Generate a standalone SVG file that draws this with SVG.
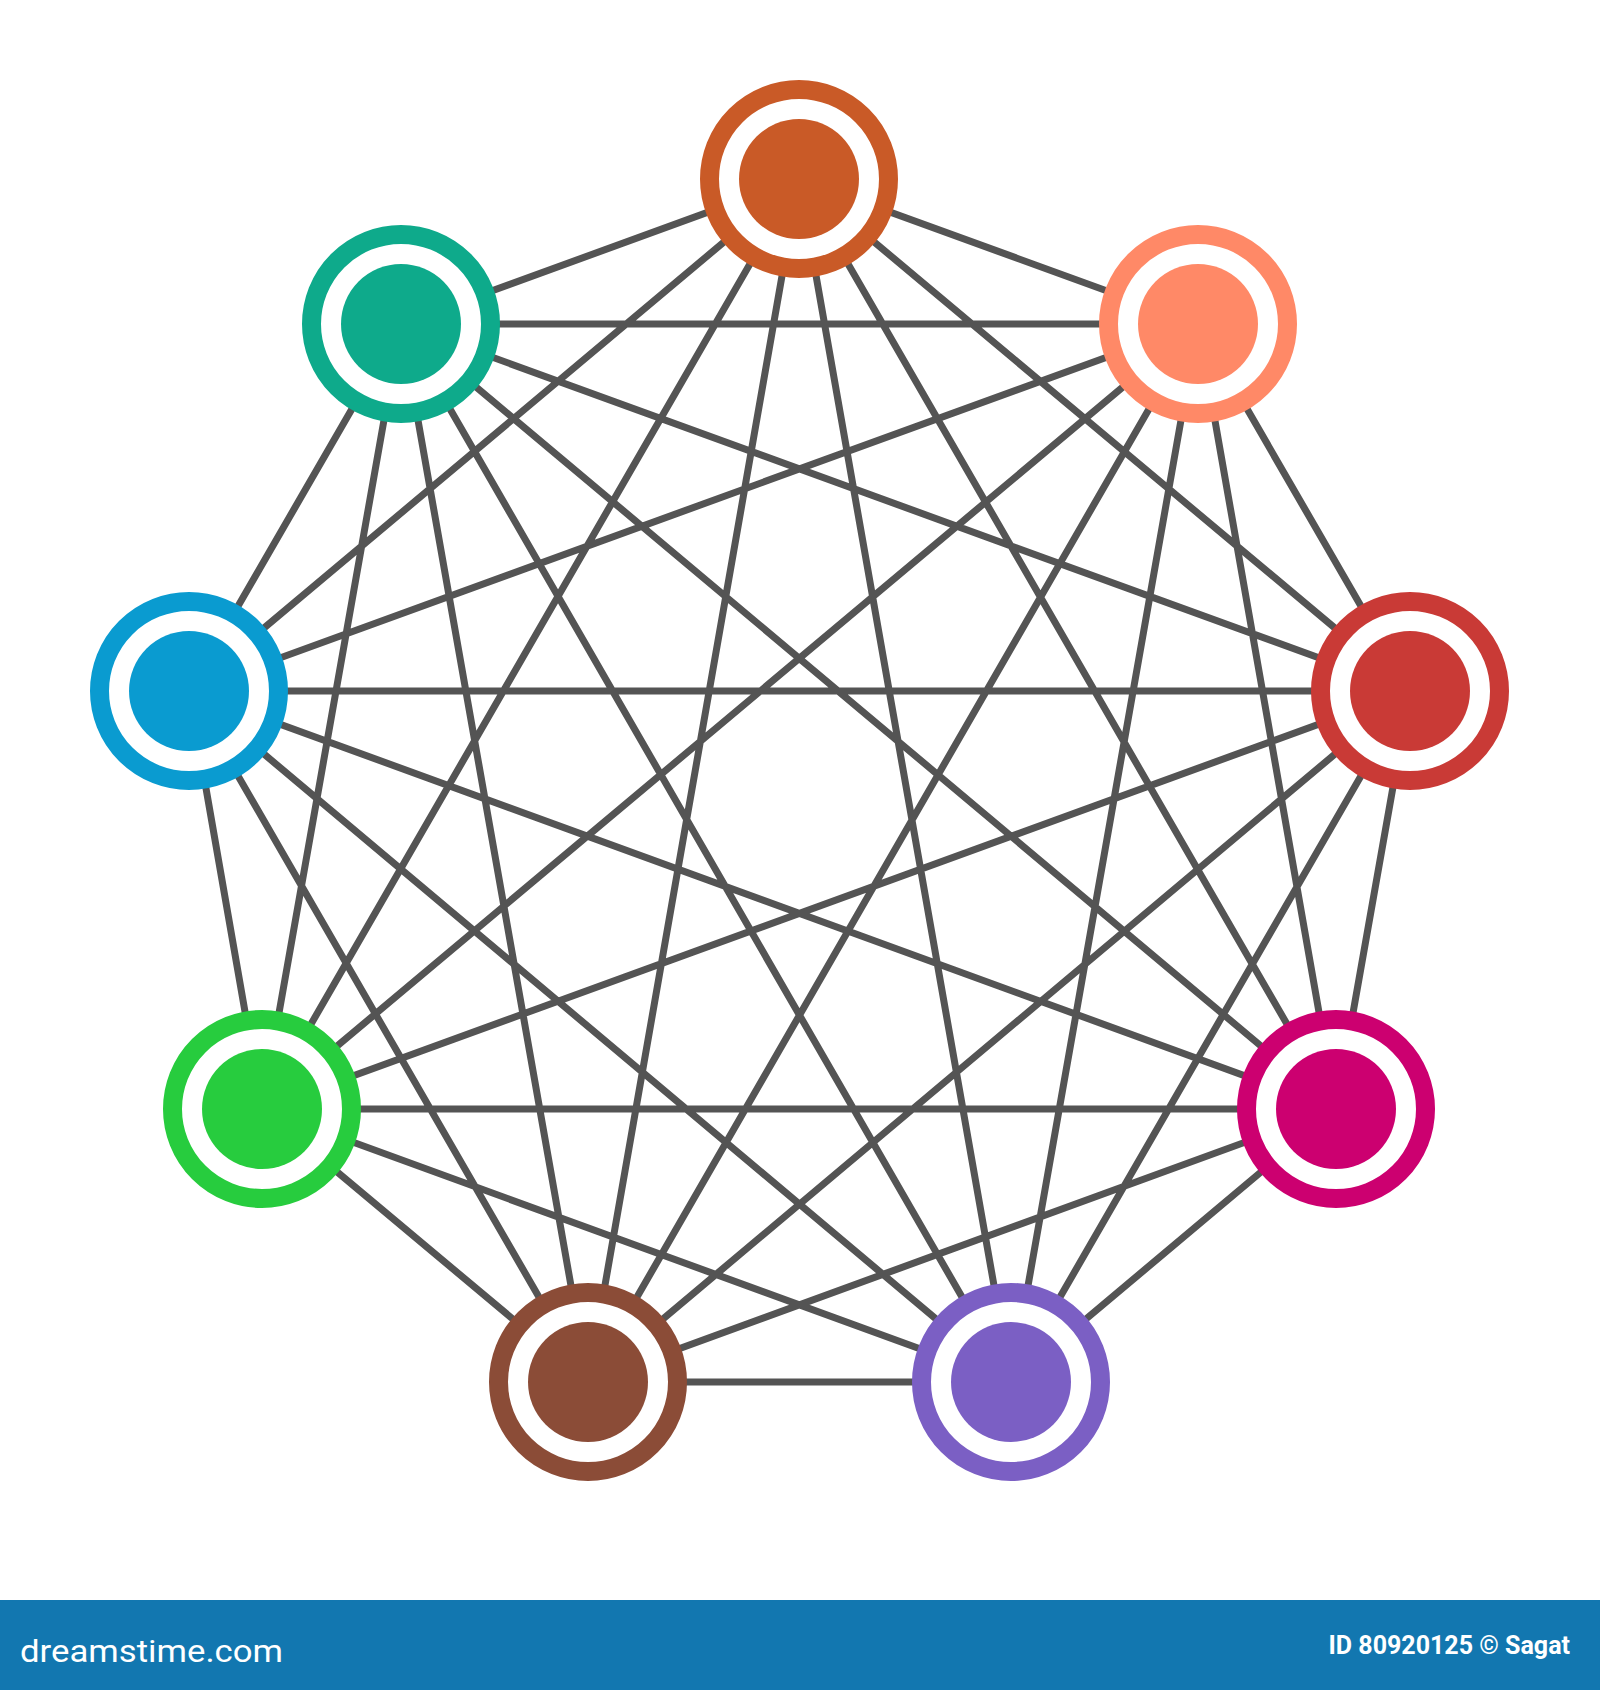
<svg xmlns="http://www.w3.org/2000/svg" width="1600" height="1690" viewBox="0 0 1600 1690">
<style>
.e{stroke:#545454;stroke-width:7;fill:none}
.ring{stroke-width:19;fill:#fff}
.ft{font-family:Roboto,"Liberation Sans",sans-serif;fill:#fff}
</style>
<defs>
<g id="nd"><circle r="89.5" class="ring"/></g>
</defs>
<rect width="1600" height="1690" fill="#fff"/>
<g id="connectors">
<path class="e" d="M799 179L1198 324M799 179L1410 691M799 179L1336 1109M799 179L1011 1382M799 179L588 1382M799 179L262 1109M799 179L189 691M799 179L401 324
M1198 324L1410 691M1198 324L1336 1109M1198 324L1011 1382M1198 324L588 1382M1198 324L262 1109M1198 324L189 691M1198 324L401 324
M1410 691L1336 1109M1410 691L1011 1382M1410 691L588 1382M1410 691L262 1109M1410 691L189 691M1410 691L401 324
M1336 1109L1011 1382M1336 1109L588 1382M1336 1109L262 1109M1336 1109L189 691M1336 1109L401 324
M1011 1382L588 1382M1011 1382L262 1109M1011 1382L189 691M1011 1382L401 324
M588 1382L262 1109M588 1382L189 691M588 1382L401 324
M262 1109L189 691M262 1109L401 324
M189 691L401 324"/>
</g>
<g id="n1"><circle cx="799" cy="179" r="89.5" class="ring" stroke="#c95a27"/><circle cx="799" cy="179" r="60" fill="#c95a27"/></g>
<g id="n2"><circle cx="1198" cy="324" r="89.5" class="ring" stroke="#ff8967"/><circle cx="1198" cy="324" r="60" fill="#ff8967"/></g>
<g id="n3"><circle cx="1410" cy="691" r="89.5" class="ring" stroke="#c93a36"/><circle cx="1410" cy="691" r="60" fill="#c93a36"/></g>
<g id="n4"><circle cx="1336" cy="1109" r="89.5" class="ring" stroke="#cc0070"/><circle cx="1336" cy="1109" r="60" fill="#cc0070"/></g>
<g id="n5"><circle cx="1011" cy="1382" r="89.5" class="ring" stroke="#7b5fc4"/><circle cx="1011" cy="1382" r="60" fill="#7b5fc4"/></g>
<g id="n6"><circle cx="588" cy="1382" r="89.5" class="ring" stroke="#8b4c37"/><circle cx="588" cy="1382" r="60" fill="#8b4c37"/></g>
<g id="n7"><circle cx="262" cy="1109" r="89.5" class="ring" stroke="#27cc3e"/><circle cx="262" cy="1109" r="60" fill="#27cc3e"/></g>
<g id="n8"><circle cx="189" cy="691" r="89.5" class="ring" stroke="#0a9bd0"/><circle cx="189" cy="691" r="60" fill="#0a9bd0"/></g>
<g id="n9"><circle cx="401" cy="324" r="89.5" class="ring" stroke="#0eaa8b"/><circle cx="401" cy="324" r="60" fill="#0eaa8b"/></g>
<g id="footer">
<rect x="0" y="1600" width="1600" height="90" fill="#1277b0"/>
<text x="20" y="1662" class="ft" font-size="32" textLength="263" lengthAdjust="spacingAndGlyphs">dreamstime.com</text>
<text x="1570" y="1654" class="ft" font-size="25" font-weight="bold" text-anchor="end">ID 80920125 © Sagat</text>
</g>
</svg>
